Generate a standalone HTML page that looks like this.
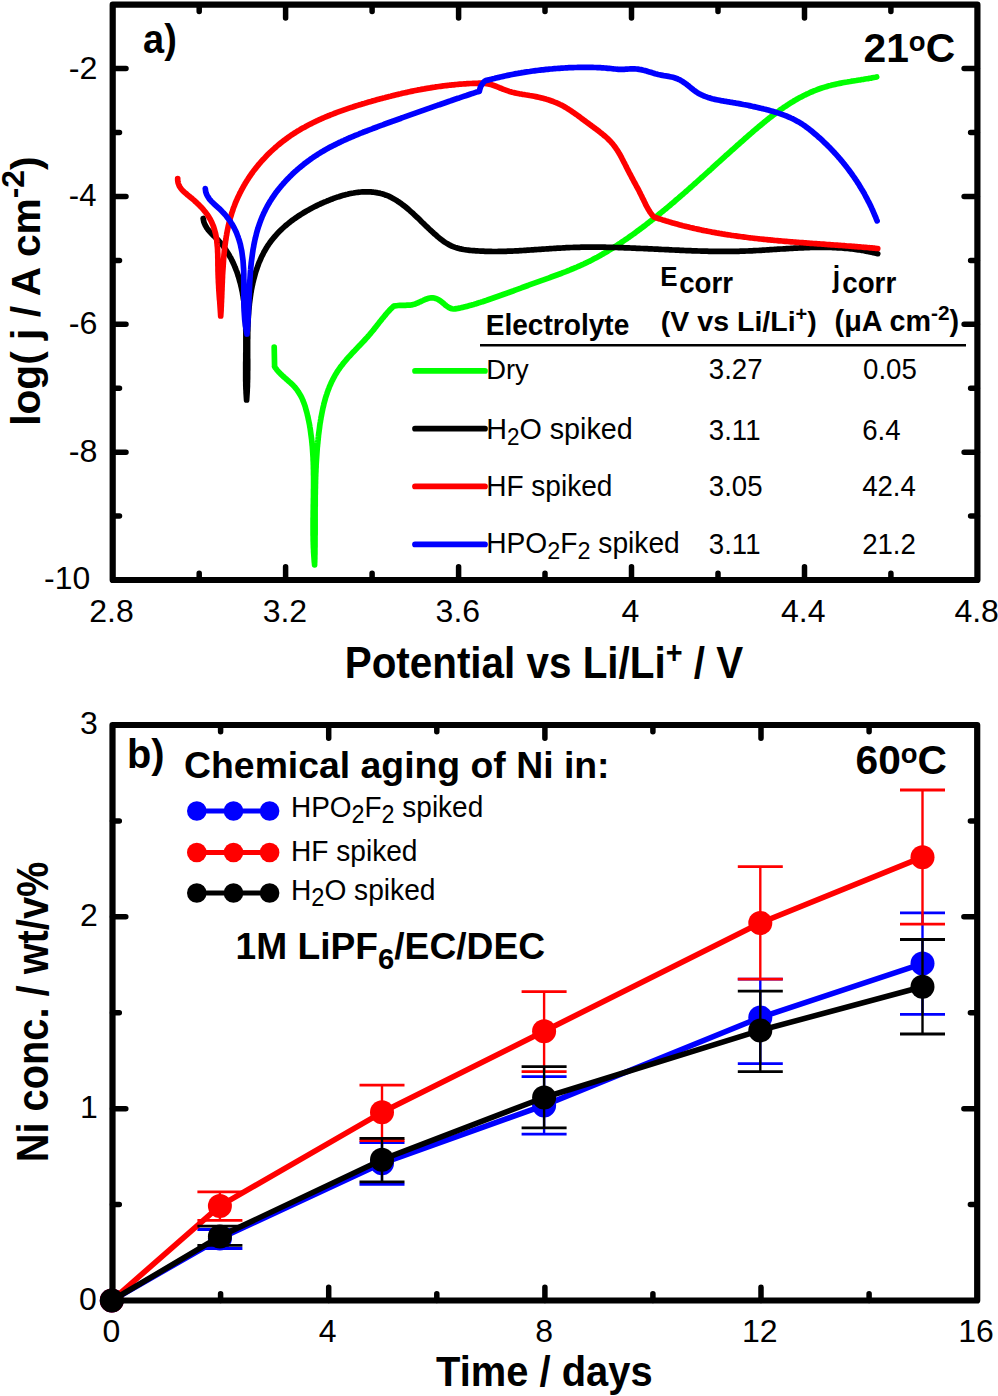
<!DOCTYPE html>
<html><head><meta charset="utf-8"><title>Figure</title>
<style>
html,body{margin:0;padding:0;background:#fff;}
body{width:998px;height:1396px;overflow:hidden;font-family:"Liberation Sans",sans-serif;}
svg{display:block;}
</style></head><body>
<svg width="998" height="1396" viewBox="0 0 998 1396" font-family="Liberation Sans, sans-serif">
<rect x="0" y="0" width="998" height="1396" fill="#fff"/>
<path d="M274.2,347.0 L274.6,366.5 M274.6,366.5 L275.3,367.7 L276.2,368.9 L277.0,370.0 L278.0,371.2 L279.0,372.3 L280.0,373.3 L281.1,374.4 L282.2,375.4 L283.3,376.5 L284.5,377.5 L285.6,378.5 L286.8,379.5 L288.0,380.6 L289.1,381.6 L290.3,382.6 L291.4,383.7 L292.5,384.7 L293.6,385.8 L294.6,386.9 L295.6,388.1 L296.5,389.2 L297.4,390.4 L298.2,391.7 L299.0,392.9 L299.8,394.2 L300.5,395.4 L301.2,396.7 L301.9,398.1 L302.5,399.4 L303.0,400.8 L303.6,402.1 L304.1,403.5 L304.6,404.9 L305.1,406.3 L305.5,407.7 L305.9,409.2 L306.3,410.6 L306.7,412.1 L307.1,413.5 L307.4,415.0 L307.8,416.4 L308.1,417.9 L308.4,419.3 L308.7,420.8 L309.0,422.3 L309.3,423.7 L309.6,425.2 L309.8,426.7 L310.1,428.2 L310.3,429.6 L310.5,431.1 L310.7,432.6 L310.9,434.1 L311.1,435.6 L311.3,437.0 L311.5,438.5 L311.7,440.0 L311.8,441.5 L312.0,443.0 L312.1,444.5 L312.3,446.0 L312.4,447.5 L312.5,449.0 L312.6,450.5 L312.7,452.0 L312.8,453.5 L312.9,455.0 L313.0,456.5 L313.1,458.0 L313.1,459.5 L313.2,461.0 L313.3,462.5 L313.3,464.0 L313.4,465.5 L313.4,467.0 L313.4,468.5 L313.5,470.1 L313.5,471.6 L313.5,473.1 L313.5,474.6 L313.6,476.1 L313.6,477.6 L313.6,479.1 L313.6,480.7 L313.6,482.2 L313.6,483.7 L313.6,485.2 L313.6,486.7 L313.6,488.2 L313.5,489.8 L313.5,491.3 L313.5,492.8 L313.5,494.3 L313.5,495.8 L313.5,497.3 L313.4,498.9 L313.4,500.4 L313.4,501.9 L313.4,503.4 L313.3,504.9 L313.3,506.4 L313.3,507.9 L313.3,509.5 L313.2,511.0 L313.2,512.5 L313.2,514.0 L313.2,515.5 L313.2,517.0 L313.1,518.5 L313.1,520.0 L313.1,521.6 L313.1,523.1 L313.1,524.6 L313.1,526.1 L313.1,527.6 L313.1,529.1 L313.1,530.6 L313.1,532.1 L313.1,533.6 L313.1,535.1 L313.2,536.6 L313.2,538.1 L313.2,539.6 L313.2,541.1 L313.3,542.6 L313.3,544.1 L313.4,545.6 L313.4,547.1 L313.5,548.5 L313.6,550.0 L313.6,551.5 L313.7,553.0 L313.8,554.5 L313.9,556.0 L314.0,557.4 L314.1,558.9 L314.2,560.4 L314.3,561.9 L314.5,563.3 L314.6,564.8 M314.6,564.8 L314.6,563.3 L314.7,561.8 L314.7,560.3 L314.8,558.8 L314.8,557.3 L314.8,555.7 L314.9,554.2 L314.9,552.7 L314.9,551.2 L314.9,549.7 L314.9,548.2 L315.0,546.7 L315.0,545.2 L315.0,543.7 L315.0,542.2 L315.0,540.7 L315.0,539.2 L315.0,537.6 L315.0,536.1 L315.1,534.6 L315.1,533.1 L315.1,531.6 L315.1,530.1 L315.1,528.6 L315.1,527.1 L315.1,525.6 L315.1,524.1 L315.1,522.6 L315.1,521.1 L315.1,519.6 L315.1,518.1 L315.1,516.6 L315.1,515.0 L315.1,513.5 L315.1,512.0 L315.1,510.5 L315.1,509.0 L315.1,507.5 L315.2,506.0 L315.2,504.5 L315.2,503.0 L315.2,501.5 L315.2,500.0 L315.2,498.5 L315.2,497.0 L315.2,495.5 L315.3,494.0 L315.3,492.5 L315.3,491.0 L315.3,489.5 L315.4,488.0 L315.4,486.4 L315.4,484.9 L315.5,483.4 L315.5,481.9 L315.5,480.4 L315.6,478.9 L315.6,477.4 L315.7,475.9 L315.7,474.4 L315.8,472.9 L315.9,471.4 L315.9,469.9 L316.0,468.4 L316.1,466.9 L316.1,465.4 L316.2,463.9 L316.3,462.4 L316.4,460.9 L316.5,459.4 L316.6,457.9 L316.7,456.4 L316.8,454.8 L316.9,453.3 L317.0,451.8 L317.1,450.3 L317.2,448.8 L317.3,447.3 L317.5,445.8 L317.6,444.3 L317.8,442.8 L317.9,441.3 L318.1,439.8 L318.2,438.3 L318.4,436.8 L318.5,435.3 L318.7,433.8 L318.9,432.3 L319.1,430.8 L319.3,429.3 L319.5,427.8 L319.7,426.2 L319.9,424.7 L320.1,423.2 L320.4,421.7 L320.6,420.2 L320.9,418.7 L321.1,417.2 L321.4,415.8 L321.7,414.3 L322.0,412.8 L322.3,411.3 L322.6,409.8 L322.9,408.3 L323.2,406.9 L323.6,405.4 L323.9,403.9 L324.3,402.5 L324.7,401.0 L325.1,399.6 L325.5,398.1 L325.9,396.7 L326.4,395.3 L326.9,393.9 L327.3,392.5 L327.8,391.1 L328.3,389.7 L328.9,388.3 L329.4,386.9 L330.0,385.5 L330.6,384.2 L331.2,382.8 L331.8,381.5 L332.5,380.2 L333.1,378.9 L333.8,377.6 L334.5,376.3 L335.2,375.0 L336.0,373.7 L336.8,372.4 L337.6,371.2 L338.4,370.0 L339.2,368.8 L340.1,367.5 L341.0,366.3 L341.9,365.2 L342.8,364.0 L343.7,362.8 L344.7,361.7 L345.7,360.5 L346.6,359.4 L347.6,358.2 L348.6,357.1 L349.7,356.0 L350.7,354.9 L351.7,353.7 L352.8,352.6 L353.8,351.5 L354.9,350.4 L355.9,349.3 L357.0,348.2 L358.0,347.1 L359.1,346.0 L360.1,344.9 L361.2,343.8 L362.2,342.7 L363.3,341.6 L364.3,340.5 L365.4,339.3 L366.4,338.2 L367.4,337.1 L368.4,335.9 L369.4,334.8 L370.4,333.6 L371.3,332.5 L372.3,331.3 L373.3,330.2 L374.2,329.0 L375.1,327.8 L376.1,326.6 L377.0,325.4 L377.9,324.3 L378.8,323.1 L379.7,321.9 L380.7,320.7 L381.6,319.6 L382.5,318.4 L383.5,317.3 L384.4,316.1 L385.4,315.0 L386.3,313.8 L387.3,312.7 L388.3,311.6 L389.3,310.5 L390.3,309.4 L391.4,308.4 L392.4,307.3 L393.5,306.3 M393.5,306.3 L395.0,305.9 L396.5,305.7 L398.1,305.5 L399.6,305.4 L401.1,305.3 L402.5,305.3 L404.0,305.3 L405.5,305.3 L407.0,305.2 L408.4,305.2 L409.9,305.1 L411.4,304.9 L412.8,304.6 L414.3,304.2 L415.8,303.7 L417.2,303.1 L418.7,302.5 L420.1,301.8 L421.6,301.1 L423.0,300.5 L424.4,299.8 L425.8,299.2 L427.3,298.7 L428.7,298.3 L430.0,298.0 L431.4,297.8 L432.8,297.8 L434.1,298.0 L435.5,298.4 L436.8,298.9 L438.1,299.5 L439.3,300.2 L440.6,301.1 L441.8,302.0 L443.0,303.0 L444.2,304.0 L445.4,305.1 L446.6,306.0 L447.9,306.9 L449.2,307.7 L450.5,308.3 L451.9,308.8 L453.4,309.0 L455.0,308.9 M455.0,308.9 L456.5,308.6 L457.9,308.4 L459.4,308.1 L460.9,307.8 L462.3,307.4 L463.8,307.1 L465.3,306.7 L466.7,306.4 L468.2,306.0 L469.6,305.6 L471.0,305.2 L472.5,304.8 L473.9,304.4 L475.4,303.9 L476.8,303.5 L478.2,303.0 L479.7,302.6 L481.1,302.1 L482.5,301.7 L483.9,301.2 L485.4,300.7 L486.8,300.3 L488.2,299.8 L489.6,299.3 L491.1,298.8 L492.5,298.3 L493.9,297.8 L495.3,297.3 L496.8,296.8 L498.2,296.3 L499.6,295.8 L501.0,295.3 L502.4,294.8 L503.8,294.3 L505.3,293.8 L506.7,293.3 L508.1,292.7 L509.5,292.2 L510.9,291.7 L512.3,291.2 L513.8,290.7 L515.2,290.1 L516.6,289.6 L518.0,289.1 L519.4,288.6 L520.8,288.1 L522.2,287.5 L523.7,287.0 L525.1,286.5 L526.5,286.0 L527.9,285.5 L529.3,284.9 L530.7,284.4 L532.1,283.9 L533.6,283.4 L535.0,282.9 L536.4,282.4 L537.8,281.9 L539.2,281.4 L540.6,280.9 L542.0,280.4 L543.5,279.9 L544.9,279.4 L546.3,278.9 L547.7,278.4 L549.1,277.9 L550.5,277.3 L551.9,276.8 L553.3,276.3 L554.7,275.8 L556.1,275.3 L557.5,274.8 L558.9,274.2 L560.3,273.7 L561.7,273.2 L563.1,272.6 L564.5,272.1 L565.9,271.6 L567.3,271.0 L568.7,270.5 L570.1,269.9 L571.4,269.3 L572.8,268.8 L574.2,268.2 L575.6,267.6 L577.0,267.0 L578.3,266.4 L579.7,265.8 L581.1,265.2 L582.4,264.6 L583.8,264.0 L585.1,263.3 L586.5,262.7 L587.8,262.0 L589.2,261.4 L590.5,260.7 L591.9,260.0 L593.2,259.3 L594.5,258.6 L595.8,257.9 L597.2,257.2 L598.5,256.5 L599.8,255.8 L601.1,255.0 L602.4,254.3 L603.7,253.5 L605.0,252.8 L606.3,252.0 L607.6,251.2 L608.9,250.4 L610.2,249.6 L611.5,248.8 L612.8,248.0 L614.1,247.2 L615.3,246.4 L616.6,245.6 L617.9,244.8 L619.1,243.9 L620.4,243.1 L621.7,242.2 L622.9,241.4 L624.2,240.5 L625.4,239.7 L626.7,238.8 L627.9,238.0 L629.1,237.1 L630.4,236.2 L631.6,235.3 L632.8,234.5 L634.1,233.6 L635.3,232.7 L636.5,231.8 L637.7,230.9 L638.9,230.0 L640.1,229.1 L641.3,228.2 L642.6,227.3 L643.8,226.4 L645.0,225.5 L646.1,224.6 L647.3,223.6 L648.5,222.7 L649.7,221.8 L650.9,220.9 L652.1,219.9 L653.3,219.0 L654.4,218.1 L655.6,217.1 L656.8,216.2 L658.0,215.2 L659.1,214.3 L660.3,213.3 L661.4,212.4 L662.6,211.4 L663.8,210.5 L664.9,209.5 L666.1,208.6 L667.2,207.6 L668.4,206.6 L669.5,205.7 L670.7,204.7 L671.8,203.7 L673.0,202.8 L674.1,201.8 L675.2,200.8 L676.4,199.8 L677.5,198.9 L678.7,197.9 L679.8,196.9 L680.9,195.9 L682.1,194.9 L683.2,194.0 L684.3,193.0 L685.4,192.0 L686.6,191.0 L687.7,190.0 L688.8,189.0 L689.9,188.0 L691.1,187.0 L692.2,186.0 L693.3,185.0 L694.4,184.0 L695.6,183.0 L696.7,182.0 L697.8,181.0 L698.9,180.0 L700.0,179.0 L701.1,178.0 L702.3,177.0 L703.4,176.0 L704.5,175.0 L705.6,174.0 L706.7,173.0 L707.8,172.0 L708.9,171.0 L710.1,170.0 L711.2,169.0 L712.3,167.9 L713.4,166.9 L714.5,165.9 L715.6,164.9 L716.7,163.9 L717.8,162.9 L719.0,161.9 L720.1,160.9 L721.2,159.9 L722.3,158.9 L723.4,157.9 L724.5,156.9 L725.6,155.8 L726.8,154.8 L727.9,153.8 L729.0,152.8 L730.1,151.8 L731.2,150.8 L732.4,149.8 L733.5,148.8 L734.6,147.8 L735.7,146.8 L736.8,145.8 L738.0,144.8 L739.1,143.8 L740.2,142.8 L741.4,141.8 L742.5,140.8 L743.6,139.8 L744.7,138.8 L745.9,137.8 L747.0,136.8 L748.1,135.8 L749.3,134.9 L750.4,133.9 L751.6,132.9 L752.7,131.9 L753.8,130.9 L755.0,129.9 L756.1,129.0 L757.3,128.0 L758.4,127.0 L759.6,126.0 L760.8,125.1 L761.9,124.1 L763.1,123.2 L764.2,122.2 L765.4,121.2 L766.6,120.3 L767.8,119.4 L768.9,118.4 L770.1,117.5 L771.3,116.6 L772.5,115.7 L773.7,114.8 L774.9,113.9 L776.1,113.0 L777.3,112.1 L778.5,111.2 L779.7,110.3 L780.9,109.4 L782.2,108.6 L783.4,107.7 L784.6,106.9 L785.9,106.1 L787.1,105.2 L788.4,104.4 L789.6,103.6 L790.9,102.8 L792.2,102.1 L793.4,101.3 L794.7,100.5 L796.0,99.8 L797.3,99.0 L798.6,98.3 L799.9,97.6 L801.2,96.9 L802.5,96.2 L803.8,95.5 L805.2,94.9 L806.5,94.2 L807.9,93.6 L809.2,93.0 L810.6,92.3 L812.0,91.8 L813.3,91.2 L814.7,90.6 L816.1,90.1 L817.5,89.5 L818.9,89.0 L820.3,88.5 L821.8,88.0 L823.2,87.6 L824.7,87.1 L826.1,86.7 L827.6,86.2 L829.0,85.8 L830.5,85.5 L832.0,85.1 L833.5,84.7 L835.0,84.4 L836.5,84.0 L838.0,83.7 L839.5,83.4 L841.0,83.1 L842.5,82.8 L844.0,82.5 L845.6,82.2 L847.1,82.0 L848.6,81.7 L850.1,81.5 L851.6,81.2 L853.2,81.0 L854.7,80.7 L856.2,80.5 L857.7,80.2 L859.2,80.0 L860.7,79.8 L862.2,79.5 L863.7,79.3 L865.2,79.0 L866.6,78.8 L868.1,78.6 L869.6,78.3 L871.0,78.1 L872.4,77.8 L873.9,77.5 L875.3,77.3 L876.7,77.0" fill="none" stroke="#00ff00" stroke-width="5.7" stroke-linecap="round" stroke-linejoin="round"/>
<path d="M203.2,218.5 L203.5,220.1 L203.8,221.7 L204.3,223.1 L204.9,224.5 L205.6,225.9 L206.3,227.1 L207.1,228.4 L208.0,229.6 L208.9,230.7 L209.9,231.8 L210.9,232.9 L212.0,234.0 L213.0,235.1 L214.1,236.1 L215.2,237.2 L216.3,238.3 L217.3,239.3 L218.4,240.4 L219.4,241.6 L220.4,242.7 L221.4,243.9 L222.3,245.0 L223.3,246.2 L224.2,247.4 L225.0,248.7 L225.9,249.9 L226.7,251.2 L227.5,252.5 L228.3,253.8 L229.1,255.1 L229.8,256.4 L230.6,257.7 L231.3,259.0 L231.9,260.4 L232.6,261.7 L233.2,263.1 L233.9,264.5 L234.5,265.9 L235.0,267.2 L235.6,268.6 L236.1,270.0 L236.7,271.4 L237.2,272.8 L237.7,274.2 L238.1,275.7 L238.6,277.1 L239.0,278.5 L239.4,279.9 L239.8,281.4 L240.2,282.8 L240.6,284.2 L240.9,285.7 L241.3,287.1 L241.6,288.6 L241.9,290.1 L242.2,291.5 L242.5,293.0 L242.7,294.4 L243.0,295.9 L243.2,297.4 L243.4,298.9 L243.7,300.4 L243.9,301.8 L244.0,303.3 L244.2,304.8 L244.4,306.3 L244.6,307.8 L244.7,309.3 L244.8,310.8 L245.0,312.3 L245.1,313.8 L245.2,315.3 L245.3,316.8 L245.4,318.3 L245.5,319.9 L245.5,321.4 L245.6,322.9 L245.7,324.4 L245.7,325.9 L245.8,327.4 L245.8,329.0 L245.8,330.5 L245.9,332.0 L245.9,333.5 L245.9,335.1 L245.9,336.6 L245.9,338.1 L245.9,339.6 L245.9,341.2 L245.9,342.7 L245.9,344.2 L245.9,345.8 L245.9,347.3 L245.9,348.8 L245.9,350.3 L245.9,351.9 L245.8,353.4 L245.8,354.9 L245.8,356.4 L245.8,358.0 L245.8,359.5 L245.8,361.0 L245.7,362.5 L245.7,364.1 L245.7,365.6 L245.7,367.1 L245.7,368.6 L245.7,370.1 L245.7,371.7 L245.7,373.2 L245.7,374.7 L245.7,376.2 L245.7,377.7 L245.7,379.2 L245.7,380.7 L245.8,382.2 L245.8,383.7 L245.8,385.2 L245.9,386.7 L245.9,388.2 L246.0,389.7 L246.1,391.2 L246.1,392.6 L246.2,394.1 L246.3,395.6 L246.4,397.1 L246.5,398.5 L246.6,400.0 M246.6,400.0 L246.7,398.5 L246.8,397.0 L246.9,395.5 L247.0,394.0 L247.1,392.5 L247.2,391.0 L247.2,389.5 L247.3,388.0 L247.4,386.5 L247.4,385.0 L247.4,383.5 L247.5,382.0 L247.5,380.5 L247.6,379.0 L247.6,377.5 L247.6,376.0 L247.6,374.5 L247.6,373.0 L247.6,371.5 L247.7,370.0 L247.7,368.5 L247.7,367.0 L247.7,365.5 L247.7,364.0 L247.7,362.5 L247.7,361.0 L247.7,359.5 L247.6,358.0 L247.6,356.5 L247.6,355.0 L247.6,353.5 L247.6,352.0 L247.6,350.5 L247.6,349.0 L247.6,347.5 L247.6,345.9 L247.6,344.4 L247.6,342.9 L247.6,341.4 L247.6,339.9 L247.7,338.4 L247.7,336.9 L247.7,335.4 L247.7,333.9 L247.7,332.4 L247.8,330.9 L247.8,329.4 L247.8,327.9 L247.9,326.4 L247.9,324.9 L248.0,323.4 L248.1,321.9 L248.1,320.4 L248.2,318.9 L248.3,317.4 L248.4,315.9 L248.5,314.4 L248.6,312.9 L248.7,311.4 L248.8,309.9 L249.0,308.4 L249.1,306.9 L249.3,305.4 L249.4,303.9 L249.6,302.4 L249.8,300.9 L250.0,299.4 L250.2,297.9 L250.4,296.4 L250.6,295.0 L250.8,293.5 L251.1,292.0 L251.3,290.5 L251.6,289.0 L251.9,287.5 L252.2,286.0 L252.5,284.6 L252.8,283.1 L253.2,281.6 L253.5,280.1 L253.9,278.7 L254.3,277.2 L254.7,275.7 L255.1,274.3 L255.5,272.8 L255.9,271.4 L256.4,270.0 L256.9,268.5 L257.4,267.1 L257.9,265.7 L258.4,264.3 L258.9,262.9 L259.5,261.5 L260.1,260.2 L260.7,258.8 L261.3,257.4 L261.9,256.1 L262.6,254.8 L263.3,253.5 L263.9,252.1 L264.7,250.9 L265.4,249.6 L266.1,248.3 L266.9,247.1 L267.7,245.8 L268.5,244.6 L269.4,243.4 L270.2,242.2 L271.1,241.0 L272.0,239.9 L272.9,238.7 L273.8,237.6 L274.8,236.5 L275.8,235.4 L276.7,234.3 L277.7,233.2 L278.8,232.1 L279.8,231.1 L280.9,230.0 L281.9,229.0 L283.0,228.0 L284.1,227.0 L285.2,226.0 L286.4,225.0 L287.5,224.1 L288.7,223.1 L289.8,222.2 L291.0,221.3 L292.2,220.4 L293.4,219.5 L294.7,218.6 L295.9,217.7 L297.2,216.9 L298.4,216.0 L299.7,215.2 L301.0,214.4 L302.3,213.6 L303.6,212.8 L304.9,212.0 L306.2,211.2 L307.6,210.4 L308.9,209.7 L310.3,208.9 L311.6,208.2 L313.0,207.5 L314.4,206.8 L315.8,206.1 L317.2,205.4 L318.6,204.7 L320.0,204.1 L321.4,203.4 L322.8,202.8 L324.2,202.2 L325.7,201.6 L327.1,201.0 L328.6,200.4 L330.0,199.8 L331.5,199.2 L332.9,198.7 L334.4,198.1 L335.8,197.6 L337.3,197.1 L338.8,196.7 L340.2,196.2 L341.7,195.7 L343.2,195.3 L344.7,194.9 L346.1,194.5 L347.6,194.2 L349.1,193.8 L350.5,193.5 L352.0,193.2 L353.5,193.0 L355.0,192.7 L356.4,192.5 L357.9,192.3 L359.3,192.2 L360.8,192.0 L362.3,191.9 L363.7,191.9 L365.1,191.8 L366.6,191.8 L368.0,191.8 L369.5,191.9 L370.9,191.9 L372.3,192.1 L373.7,192.2 L375.1,192.4 L376.5,192.6 L377.9,192.9 L379.3,193.1 L380.7,193.5 L382.0,193.8 L383.4,194.2 L384.7,194.7 L386.1,195.2 L387.4,195.7 L388.7,196.2 L390.0,196.8 L391.3,197.5 L392.6,198.2 L393.9,198.9 L395.1,199.6 L396.4,200.4 L397.6,201.2 L398.9,202.0 L400.1,202.9 L401.3,203.7 L402.6,204.7 L403.8,205.6 L405.0,206.5 L406.2,207.5 L407.4,208.5 L408.6,209.5 L409.7,210.5 L410.9,211.6 L412.1,212.6 L413.3,213.7 L414.4,214.8 L415.6,215.9 L416.7,217.0 L417.9,218.0 L419.0,219.1 L420.2,220.3 L421.3,221.4 L422.4,222.5 L423.6,223.6 L424.7,224.7 L425.8,225.8 L427.0,226.9 L428.1,227.9 L429.2,229.0 L430.4,230.1 L431.5,231.1 L432.6,232.2 L433.7,233.2 L434.9,234.2 L436.0,235.2 L437.1,236.2 L438.2,237.1 L439.4,238.1 L440.5,239.0 L441.6,239.9 L442.8,240.7 L443.9,241.6 L445.1,242.4 L446.3,243.1 L447.5,243.8 L448.7,244.5 L449.9,245.2 L451.2,245.8 L452.5,246.4 L453.8,246.9 L455.2,247.4 L456.5,247.8 L457.9,248.2 L459.3,248.6 L460.8,248.9 L462.2,249.2 L463.7,249.5 L465.2,249.7 L466.7,250.0 L468.2,250.1 L469.7,250.3 L471.2,250.5 L472.8,250.6 L474.3,250.7 L475.8,250.8 L477.3,250.9 L478.9,251.0 L480.4,251.1 L481.9,251.2 L483.5,251.2 L485.0,251.3 L486.5,251.3 L488.0,251.4 L489.5,251.4 L491.1,251.4 L492.6,251.5 L494.1,251.5 L495.6,251.5 L497.1,251.5 L498.6,251.4 L500.2,251.4 L501.7,251.4 L503.2,251.4 L504.7,251.3 L506.2,251.3 L507.7,251.2 L509.2,251.2 L510.7,251.1 L512.2,251.1 L513.7,251.0 L515.2,250.9 L516.7,250.9 L518.2,250.8 L519.7,250.7 L521.3,250.6 L522.8,250.5 L524.3,250.4 L525.8,250.3 L527.3,250.2 L528.8,250.1 L530.3,250.0 L531.8,249.9 L533.3,249.8 L534.8,249.7 L536.2,249.6 L537.7,249.5 L539.2,249.4 L540.7,249.3 L542.2,249.2 L543.7,249.1 L545.2,249.0 L546.7,248.9 L548.2,248.8 L549.7,248.7 L551.2,248.6 L552.7,248.5 L554.2,248.4 L555.7,248.3 L557.2,248.2 L558.7,248.1 L560.2,248.1 L561.7,248.0 L563.2,247.9 L564.7,247.8 L566.2,247.7 L567.7,247.7 L569.2,247.6 L570.7,247.5 L572.2,247.5 L573.7,247.4 L575.1,247.4 L576.6,247.4 L578.1,247.3 L579.6,247.3 L581.1,247.2 L582.6,247.2 L584.1,247.2 L585.6,247.2 L587.1,247.2 L588.6,247.2 L590.1,247.1 L591.6,247.1 L593.1,247.1 L594.6,247.1 L596.1,247.1 L597.6,247.2 L599.1,247.2 L600.6,247.2 L602.1,247.2 L603.6,247.2 L605.1,247.2 L606.6,247.3 L608.1,247.3 L609.6,247.3 L611.1,247.4 L612.6,247.4 L614.1,247.4 L615.6,247.5 L617.1,247.5 L618.6,247.6 L620.1,247.6 L621.6,247.7 L623.1,247.7 L624.6,247.8 L626.1,247.8 L627.6,247.9 L629.1,247.9 L630.6,248.0 L632.1,248.1 L633.6,248.1 L635.1,248.2 L636.6,248.3 L638.1,248.3 L639.6,248.4 L641.2,248.5 L642.7,248.5 L644.2,248.6 L645.7,248.7 L647.2,248.7 L648.7,248.8 L650.2,248.9 L651.7,248.9 L653.2,249.0 L654.7,249.1 L656.2,249.2 L657.7,249.2 L659.2,249.3 L660.7,249.4 L662.2,249.5 L663.7,249.5 L665.2,249.6 L666.7,249.7 L668.2,249.7 L669.7,249.8 L671.2,249.9 L672.7,250.0 L674.2,250.0 L675.7,250.1 L677.2,250.2 L678.7,250.2 L680.2,250.3 L681.7,250.4 L683.2,250.4 L684.7,250.5 L686.2,250.6 L687.7,250.6 L689.2,250.7 L690.7,250.7 L692.2,250.8 L693.7,250.8 L695.2,250.9 L696.7,250.9 L698.2,251.0 L699.7,251.0 L701.2,251.1 L702.7,251.1 L704.2,251.2 L705.7,251.2 L707.2,251.2 L708.8,251.3 L710.3,251.3 L711.8,251.3 L713.3,251.3 L714.8,251.4 L716.3,251.4 L717.8,251.4 L719.3,251.4 L720.8,251.4 L722.3,251.4 L723.8,251.4 L725.3,251.4 L726.8,251.4 L728.3,251.4 L729.8,251.4 L731.3,251.4 L732.8,251.4 L734.3,251.3 L735.8,251.3 L737.3,251.3 L738.8,251.3 L740.3,251.2 L741.7,251.2 L743.2,251.1 L744.7,251.1 L746.2,251.0 L747.7,251.0 L749.2,250.9 L750.7,250.8 L752.2,250.8 L753.7,250.7 L755.2,250.6 L756.7,250.5 L758.2,250.5 L759.7,250.4 L761.2,250.3 L762.7,250.2 L764.2,250.1 L765.7,250.0 L767.2,249.9 L768.7,249.8 L770.2,249.7 L771.7,249.6 L773.2,249.5 L774.7,249.4 L776.2,249.3 L777.7,249.2 L779.2,249.1 L780.7,249.0 L782.2,249.0 L783.6,248.9 L785.1,248.8 L786.6,248.7 L788.1,248.6 L789.6,248.5 L791.1,248.4 L792.6,248.3 L794.1,248.2 L795.6,248.2 L797.1,248.1 L798.6,248.0 L800.1,247.9 L801.6,247.9 L803.1,247.8 L804.6,247.7 L806.1,247.7 L807.5,247.6 L809.0,247.6 L810.5,247.5 L812.0,247.5 L813.5,247.5 L815.0,247.4 L816.5,247.4 L818.0,247.4 L819.5,247.4 L821.0,247.4 L822.5,247.4 L824.0,247.4 L825.5,247.4 L827.0,247.4 L828.4,247.4 L829.9,247.5 L831.4,247.5 L832.9,247.6 L834.4,247.6 L835.9,247.7 L837.4,247.8 L838.9,247.9 L840.4,247.9 L841.9,248.0 L843.4,248.2 L844.9,248.3 L846.4,248.4 L847.8,248.5 L849.3,248.7 L850.8,248.9 L852.3,249.0 L853.8,249.2 L855.3,249.4 L856.8,249.6 L858.3,249.8 L859.8,250.0 L861.3,250.3 L862.8,250.5 L864.3,250.8 L865.8,251.1 L867.3,251.3 L868.7,251.6 L870.2,251.9 L871.7,252.3 L873.2,252.6 L874.7,253.0 L876.2,253.3 L877.7,253.7" fill="none" stroke="#000000" stroke-width="5.7" stroke-linecap="round" stroke-linejoin="round"/>
<path d="M177.7,178.5 L177.7,180.1 L177.9,181.7 L178.2,183.1 L178.7,184.5 L179.2,185.8 L179.9,187.0 L180.7,188.2 L181.6,189.3 L182.5,190.3 L183.5,191.4 L184.6,192.4 L185.7,193.3 L186.9,194.3 L188.0,195.3 L189.2,196.2 L190.4,197.2 L191.6,198.1 L192.7,199.1 L193.9,200.1 L195.0,201.2 L196.2,202.2 L197.3,203.3 L198.4,204.3 L199.5,205.4 L200.5,206.5 L201.6,207.6 L202.6,208.7 L203.6,209.9 L204.5,211.1 L205.5,212.2 L206.4,213.4 L207.3,214.6 L208.1,215.9 L208.9,217.1 L209.7,218.4 L210.4,219.7 L211.1,221.0 L211.7,222.3 L212.3,223.6 L212.9,225.0 L213.4,226.3 L213.9,227.7 L214.3,229.1 L214.7,230.5 L215.1,232.0 L215.5,233.4 L215.8,234.8 L216.1,236.3 L216.3,237.8 L216.6,239.3 L216.8,240.8 L216.9,242.3 L217.1,243.8 L217.2,245.3 L217.4,246.8 L217.5,248.3 L217.6,249.8 L217.6,251.4 L217.7,252.9 L217.8,254.5 L217.8,256.0 L217.8,257.5 L217.9,259.1 L217.9,260.6 L217.9,262.2 L217.9,263.7 L217.9,265.2 L218.0,266.7 L218.0,268.3 L218.0,269.8 L218.0,271.3 L218.1,272.8 L218.1,274.3 L218.2,275.8 L218.2,277.3 L218.3,278.8 L218.4,280.3 L218.4,281.7 L218.5,283.2 L218.6,284.7 L218.7,286.2 L218.7,287.6 L218.8,289.1 L218.9,290.6 L219.0,292.0 L219.1,293.5 L219.2,295.0 L219.3,296.5 L219.4,297.9 L219.5,299.4 L219.7,300.9 L219.8,302.4 L219.9,303.9 L220.0,305.4 L220.1,306.9 L220.2,308.4 L220.3,309.9 L220.4,311.4 L220.5,312.9 L220.6,314.5 L220.7,316.0 M220.7,316.0 L220.8,314.6 L220.9,313.1 L221.0,311.7 L221.1,310.2 L221.1,308.8 L221.2,307.3 L221.3,305.9 L221.3,304.4 L221.4,302.9 L221.5,301.5 L221.5,300.0 L221.6,298.5 L221.7,297.0 L221.7,295.5 L221.8,294.0 L221.8,292.5 L221.9,291.0 L222.0,289.5 L222.0,288.0 L222.1,286.5 L222.1,285.0 L222.2,283.5 L222.3,282.0 L222.3,280.5 L222.4,278.9 L222.5,277.4 L222.5,275.9 L222.6,274.4 L222.7,272.9 L222.8,271.3 L222.9,269.8 L223.0,268.3 L223.1,266.8 L223.2,265.2 L223.3,263.7 L223.4,262.2 L223.5,260.7 L223.6,259.1 L223.7,257.6 L223.9,256.1 L224.0,254.6 L224.2,253.1 L224.3,251.5 L224.5,250.0 L224.6,248.5 L224.8,247.0 L225.0,245.5 L225.2,244.0 L225.4,242.5 L225.6,240.9 L225.9,239.4 L226.1,237.9 L226.3,236.4 L226.6,235.0 L226.8,233.5 L227.1,232.0 L227.4,230.5 L227.7,229.0 L228.0,227.5 L228.3,226.1 L228.7,224.6 L229.0,223.1 L229.4,221.7 L229.8,220.2 L230.1,218.8 L230.5,217.3 L231.0,215.9 L231.4,214.5 L231.8,213.0 L232.3,211.6 L232.8,210.2 L233.2,208.8 L233.7,207.4 L234.3,206.0 L234.8,204.6 L235.3,203.2 L235.9,201.8 L236.5,200.5 L237.1,199.1 L237.7,197.7 L238.3,196.4 L239.0,195.0 L239.6,193.7 L240.3,192.4 L241.0,191.0 L241.6,189.7 L242.4,188.4 L243.1,187.1 L243.8,185.8 L244.6,184.5 L245.3,183.3 L246.1,182.0 L246.9,180.7 L247.7,179.5 L248.5,178.2 L249.3,177.0 L250.2,175.8 L251.0,174.5 L251.9,173.3 L252.7,172.1 L253.6,170.9 L254.5,169.7 L255.4,168.6 L256.4,167.4 L257.3,166.2 L258.2,165.1 L259.2,163.9 L260.2,162.8 L261.1,161.7 L262.1,160.6 L263.1,159.5 L264.2,158.4 L265.2,157.3 L266.2,156.2 L267.3,155.1 L268.3,154.1 L269.4,153.0 L270.4,152.0 L271.5,151.0 L272.6,150.0 L273.7,149.0 L274.8,148.0 L276.0,147.0 L277.1,146.0 L278.2,145.0 L279.4,144.1 L280.5,143.1 L281.7,142.2 L282.9,141.3 L284.1,140.4 L285.3,139.5 L286.5,138.6 L287.7,137.7 L288.9,136.9 L290.1,136.0 L291.3,135.2 L292.6,134.3 L293.8,133.5 L295.1,132.7 L296.4,131.9 L297.6,131.1 L298.9,130.4 L300.2,129.6 L301.5,128.8 L302.8,128.1 L304.1,127.4 L305.4,126.7 L306.7,125.9 L308.0,125.2 L309.4,124.5 L310.7,123.9 L312.0,123.2 L313.4,122.5 L314.7,121.9 L316.1,121.2 L317.5,120.6 L318.8,119.9 L320.2,119.3 L321.6,118.7 L322.9,118.1 L324.3,117.5 L325.7,116.9 L327.1,116.3 L328.5,115.7 L329.9,115.2 L331.3,114.6 L332.7,114.1 L334.1,113.5 L335.6,113.0 L337.0,112.4 L338.4,111.9 L339.8,111.4 L341.3,110.9 L342.7,110.4 L344.1,109.9 L345.6,109.4 L347.0,108.9 L348.4,108.4 L349.9,107.9 L351.3,107.4 L352.8,107.0 L354.2,106.5 L355.7,106.0 L357.1,105.6 L358.6,105.1 L360.0,104.7 L361.5,104.3 L362.9,103.8 L364.4,103.4 L365.8,102.9 L367.3,102.5 L368.7,102.1 L370.2,101.7 L371.7,101.3 L373.1,100.8 L374.6,100.4 L376.0,100.0 L377.5,99.6 L378.9,99.2 L380.4,98.8 L381.9,98.4 L383.3,98.0 L384.8,97.7 L386.2,97.3 L387.7,96.9 L389.1,96.5 L390.6,96.2 L392.1,95.8 L393.5,95.4 L395.0,95.1 L396.4,94.7 L397.9,94.4 L399.3,94.0 L400.8,93.7 L402.3,93.3 L403.7,93.0 L405.2,92.7 L406.6,92.4 L408.1,92.0 L409.6,91.7 L411.0,91.4 L412.5,91.1 L414.0,90.8 L415.4,90.5 L416.9,90.2 L418.3,89.9 L419.8,89.7 L421.3,89.4 L422.7,89.1 L424.2,88.9 L425.7,88.6 L427.1,88.3 L428.6,88.1 L430.1,87.9 L431.6,87.6 L433.0,87.4 L434.5,87.2 L436.0,86.9 L437.4,86.7 L438.9,86.5 L440.4,86.3 L441.9,86.1 L443.3,85.9 L444.8,85.7 L446.3,85.6 L447.8,85.4 L449.2,85.2 L450.7,85.1 L452.2,84.9 L453.7,84.8 L455.2,84.6 L456.6,84.5 L458.1,84.3 L459.6,84.2 L461.1,84.1 L462.6,84.0 L464.1,83.9 L465.6,83.8 L467.0,83.7 L468.5,83.6 L470.0,83.5 L471.5,83.5 L473.0,83.4 L474.5,83.4 L476.0,83.3 L477.5,83.3 L479.0,83.2 L480.5,83.2 L482.0,83.2 M482.0,83.2 L483.5,83.2 L485.0,83.4 L486.5,83.6 L488.0,83.8 L489.4,84.2 L490.9,84.6 L492.3,85.0 L493.8,85.5 L495.2,86.0 L496.6,86.5 L498.0,87.1 L499.4,87.7 L500.8,88.2 L502.2,88.8 L503.6,89.4 L505.0,89.9 L506.4,90.4 L507.9,90.9 L509.3,91.4 L510.7,91.8 L512.1,92.2 L513.6,92.5 L515.0,92.9 L516.5,93.2 L517.9,93.5 L519.4,93.8 L520.9,94.0 L522.3,94.3 L523.8,94.5 L525.3,94.8 L526.7,95.0 L528.2,95.2 L529.7,95.5 L531.2,95.7 L532.7,96.0 L534.2,96.3 L535.7,96.6 L537.1,96.9 L538.6,97.2 L540.1,97.6 L541.6,97.9 L543.1,98.3 L544.5,98.7 L546.0,99.1 L547.4,99.6 L548.9,100.0 L550.3,100.5 L551.7,101.0 L553.2,101.5 L554.6,102.1 L556.0,102.6 L557.3,103.2 L558.7,103.8 L560.1,104.5 L561.4,105.1 L562.7,105.8 L564.0,106.5 L565.3,107.3 L566.6,108.0 L567.8,108.8 L569.1,109.6 L570.3,110.4 L571.6,111.2 L572.8,112.1 L574.0,112.9 L575.3,113.8 L576.5,114.7 L577.7,115.5 L578.9,116.4 L580.1,117.3 L581.3,118.2 L582.5,119.1 L583.7,120.0 L584.9,120.9 L586.1,121.8 L587.3,122.7 L588.6,123.6 L589.8,124.5 L591.0,125.4 L592.2,126.3 L593.5,127.2 L594.7,128.1 L595.9,129.0 L597.1,129.9 L598.3,130.8 L599.5,131.8 L600.7,132.7 L601.9,133.6 L603.1,134.6 L604.2,135.6 L605.4,136.5 L606.5,137.5 L607.6,138.5 L608.6,139.6 L609.7,140.6 L610.7,141.7 L611.7,142.8 L612.7,143.9 L613.6,145.1 L614.5,146.3 L615.4,147.5 L616.2,148.7 L617.1,149.9 L617.9,151.2 L618.7,152.5 L619.4,153.8 L620.2,155.1 L620.9,156.4 L621.6,157.7 L622.3,159.1 L623.0,160.4 L623.7,161.8 L624.4,163.1 L625.1,164.5 L625.8,165.8 L626.4,167.2 L627.1,168.5 L627.8,169.9 L628.5,171.2 L629.2,172.6 L629.9,173.9 L630.6,175.2 L631.3,176.5 L632.0,177.9 L632.7,179.2 L633.4,180.5 L634.1,181.8 L634.8,183.1 L635.6,184.4 L636.3,185.8 L637.0,187.1 L637.7,188.4 L638.4,189.7 L639.1,191.0 L639.7,192.4 L640.4,193.7 L641.1,195.1 L641.8,196.4 L642.4,197.8 L643.1,199.1 L643.8,200.5 L644.4,201.8 L645.1,203.2 L645.7,204.6 L646.4,205.9 L647.1,207.2 L647.9,208.6 L648.6,209.8 L649.4,211.1 L650.2,212.4 L651.1,213.6 L652.0,214.8 L653.0,215.9 L654.0,217.0 M654.0,217.0 L655.4,217.5 L656.9,218.0 L658.3,218.5 L659.7,218.9 L661.2,219.4 L662.6,219.9 L664.0,220.3 L665.5,220.8 L666.9,221.2 L668.3,221.6 L669.8,222.1 L671.2,222.5 L672.7,222.9 L674.1,223.3 L675.6,223.7 L677.0,224.1 L678.4,224.5 L679.9,224.9 L681.3,225.3 L682.8,225.7 L684.2,226.0 L685.7,226.4 L687.2,226.7 L688.6,227.1 L690.1,227.5 L691.5,227.8 L693.0,228.1 L694.4,228.5 L695.9,228.8 L697.4,229.1 L698.8,229.4 L700.3,229.7 L701.8,230.1 L703.2,230.4 L704.7,230.7 L706.2,230.9 L707.6,231.2 L709.1,231.5 L710.6,231.8 L712.0,232.1 L713.5,232.3 L715.0,232.6 L716.4,232.9 L717.9,233.1 L719.4,233.4 L720.9,233.6 L722.3,233.9 L723.8,234.1 L725.3,234.4 L726.8,234.6 L728.3,234.8 L729.7,235.0 L731.2,235.3 L732.7,235.5 L734.2,235.7 L735.7,235.9 L737.1,236.1 L738.6,236.3 L740.1,236.5 L741.6,236.7 L743.1,236.9 L744.6,237.1 L746.0,237.3 L747.5,237.5 L749.0,237.7 L750.5,237.9 L752.0,238.0 L753.5,238.2 L755.0,238.4 L756.5,238.5 L758.0,238.7 L759.4,238.9 L760.9,239.0 L762.4,239.2 L763.9,239.3 L765.4,239.5 L766.9,239.6 L768.4,239.8 L769.9,239.9 L771.4,240.1 L772.9,240.2 L774.4,240.4 L775.9,240.5 L777.4,240.6 L778.9,240.8 L780.4,240.9 L781.9,241.0 L783.4,241.2 L784.9,241.3 L786.4,241.4 L787.9,241.5 L789.4,241.7 L790.8,241.8 L792.3,241.9 L793.8,242.0 L795.3,242.1 L796.8,242.3 L798.3,242.4 L799.8,242.5 L801.3,242.6 L802.8,242.7 L804.3,242.8 L805.8,242.9 L807.3,243.1 L808.8,243.2 L810.3,243.3 L811.8,243.4 L813.3,243.5 L814.8,243.6 L816.3,243.7 L817.8,243.8 L819.3,243.9 L820.8,244.0 L822.3,244.1 L823.8,244.2 L825.3,244.3 L826.8,244.5 L828.3,244.6 L829.8,244.7 L831.3,244.8 L832.8,244.9 L834.3,245.0 L835.8,245.1 L837.3,245.2 L838.8,245.3 L840.3,245.4 L841.8,245.5 L843.3,245.6 L844.8,245.7 L846.3,245.9 L847.8,246.0 L849.3,246.1 L850.8,246.2 L852.3,246.3 L853.8,246.4 L855.3,246.6 L856.8,246.7 L858.3,246.8 L859.8,246.9 L861.3,247.0 L862.8,247.2 L864.3,247.3 L865.8,247.4 L867.3,247.5 L868.8,247.7 L870.2,247.8 L871.7,247.9 L873.2,248.1 L874.7,248.2 L876.2,248.4 L877.7,248.5" fill="none" stroke="#ff0000" stroke-width="5.7" stroke-linecap="round" stroke-linejoin="round"/>
<path d="M205.3,188.5 L205.5,190.1 L205.7,191.6 L206.1,193.0 L206.6,194.4 L207.3,195.7 L208.0,196.9 L208.8,198.1 L209.6,199.3 L210.6,200.4 L211.5,201.5 L212.6,202.5 L213.7,203.6 L214.8,204.6 L215.9,205.6 L217.0,206.6 L218.1,207.6 L219.3,208.7 L220.4,209.7 L221.5,210.8 L222.5,211.9 L223.6,213.0 L224.6,214.1 L225.6,215.3 L226.6,216.5 L227.5,217.7 L228.4,218.9 L229.3,220.1 L230.2,221.3 L231.0,222.6 L231.8,223.8 L232.6,225.1 L233.3,226.4 L234.0,227.7 L234.7,229.0 L235.4,230.4 L236.0,231.7 L236.6,233.1 L237.1,234.4 L237.6,235.8 L238.2,237.2 L238.6,238.6 L239.1,240.0 L239.5,241.4 L239.9,242.8 L240.3,244.2 L240.6,245.6 L240.9,247.1 L241.2,248.5 L241.5,249.9 L241.8,251.4 L242.0,252.9 L242.2,254.3 L242.4,255.8 L242.6,257.3 L242.8,258.8 L243.0,260.3 L243.1,261.8 L243.2,263.3 L243.3,264.8 L243.4,266.3 L243.5,267.8 L243.6,269.3 L243.7,270.8 L243.7,272.3 L243.8,273.9 L243.8,275.4 L243.8,276.9 L243.8,278.4 L243.9,280.0 L243.9,281.5 L243.9,283.0 L243.9,284.6 L243.9,286.1 L243.9,287.6 L243.9,289.2 L243.9,290.7 L243.9,292.3 L243.9,293.8 L243.9,295.3 L243.9,296.9 L243.9,298.4 L243.9,299.9 L243.9,301.4 L243.9,303.0 L244.0,304.5 L244.0,306.0 L244.0,307.5 L244.1,309.0 L244.1,310.5 L244.2,312.1 L244.3,313.6 L244.4,315.1 L244.5,316.5 L244.6,318.0 L244.7,319.5 L244.9,321.0 L245.1,322.5 L245.2,323.9 L245.4,325.4 L245.6,326.8 L245.9,328.3 L246.1,329.7 L246.4,331.2 L246.7,332.6 L247.0,334.0 M247.0,334.0 L247.1,332.5 L247.3,331.1 L247.4,329.6 L247.5,328.2 L247.6,326.7 L247.7,325.2 L247.8,323.7 L247.9,322.3 L248.0,320.8 L248.1,319.3 L248.2,317.8 L248.2,316.3 L248.3,314.8 L248.4,313.3 L248.4,311.8 L248.5,310.3 L248.6,308.8 L248.6,307.3 L248.7,305.8 L248.8,304.3 L248.8,302.7 L248.9,301.2 L249.0,299.7 L249.0,298.2 L249.1,296.7 L249.1,295.1 L249.2,293.6 L249.3,292.1 L249.3,290.6 L249.4,289.1 L249.5,287.5 L249.6,286.0 L249.6,284.5 L249.7,283.0 L249.8,281.4 L249.9,279.9 L250.0,278.4 L250.1,276.9 L250.2,275.4 L250.3,273.8 L250.4,272.3 L250.5,270.8 L250.7,269.3 L250.8,267.8 L250.9,266.3 L251.1,264.7 L251.2,263.2 L251.4,261.7 L251.6,260.2 L251.8,258.7 L252.0,257.2 L252.2,255.7 L252.4,254.2 L252.6,252.7 L252.8,251.3 L253.0,249.8 L253.3,248.3 L253.6,246.8 L253.8,245.3 L254.1,243.9 L254.4,242.4 L254.7,241.0 L255.0,239.5 L255.4,238.0 L255.7,236.6 L256.1,235.2 L256.4,233.7 L256.8,232.3 L257.2,230.9 L257.6,229.4 L258.1,228.0 L258.5,226.6 L259.0,225.2 L259.5,223.8 L260.0,222.4 L260.5,221.0 L261.0,219.6 L261.6,218.3 L262.1,216.9 L262.7,215.5 L263.3,214.2 L263.9,212.8 L264.6,211.5 L265.2,210.2 L265.9,208.8 L266.6,207.5 L267.3,206.2 L268.0,204.9 L268.8,203.6 L269.5,202.3 L270.3,201.0 L271.1,199.8 L271.9,198.5 L272.8,197.3 L273.6,196.0 L274.5,194.8 L275.3,193.5 L276.2,192.3 L277.1,191.1 L278.1,189.9 L279.0,188.7 L280.0,187.6 L280.9,186.4 L281.9,185.2 L282.9,184.1 L283.9,182.9 L284.9,181.8 L285.9,180.7 L287.0,179.6 L288.0,178.5 L289.1,177.4 L290.1,176.3 L291.2,175.3 L292.3,174.2 L293.4,173.2 L294.5,172.1 L295.6,171.1 L296.8,170.1 L297.9,169.1 L299.1,168.1 L300.2,167.2 L301.4,166.2 L302.6,165.3 L303.7,164.3 L304.9,163.4 L306.1,162.5 L307.3,161.6 L308.6,160.7 L309.8,159.8 L311.0,158.9 L312.3,158.0 L313.5,157.2 L314.7,156.4 L316.0,155.5 L317.3,154.7 L318.5,153.9 L319.8,153.1 L321.1,152.3 L322.4,151.6 L323.7,150.8 L325.0,150.0 L326.3,149.3 L327.6,148.6 L328.9,147.8 L330.2,147.1 L331.6,146.4 L332.9,145.7 L334.2,145.1 L335.6,144.4 L336.9,143.7 L338.2,143.1 L339.6,142.4 L340.9,141.8 L342.3,141.1 L343.7,140.5 L345.0,139.9 L346.4,139.3 L347.8,138.6 L349.1,138.0 L350.5,137.5 L351.9,136.9 L353.3,136.3 L354.7,135.7 L356.1,135.1 L357.5,134.6 L358.9,134.0 L360.2,133.4 L361.6,132.9 L363.0,132.3 L364.4,131.8 L365.8,131.2 L367.3,130.7 L368.7,130.1 L370.1,129.6 L371.5,129.1 L372.9,128.5 L374.3,128.0 L375.7,127.5 L377.1,127.0 L378.5,126.4 L379.9,125.9 L381.3,125.4 L382.8,124.9 L384.2,124.3 L385.6,123.8 L387.0,123.3 L388.4,122.8 L389.8,122.3 L391.2,121.8 L392.6,121.2 L394.1,120.7 L395.5,120.2 L396.9,119.7 L398.3,119.2 L399.7,118.7 L401.1,118.2 L402.5,117.6 L404.0,117.1 L405.4,116.6 L406.8,116.1 L408.2,115.6 L409.6,115.1 L411.0,114.6 L412.4,114.1 L413.9,113.6 L415.3,113.1 L416.7,112.6 L418.1,112.1 L419.5,111.6 L420.9,111.1 L422.4,110.6 L423.8,110.1 L425.2,109.6 L426.6,109.1 L428.0,108.6 L429.5,108.1 L430.9,107.6 L432.3,107.1 L433.7,106.6 L435.1,106.1 L436.6,105.6 L438.0,105.1 L439.4,104.7 L440.8,104.2 L442.2,103.7 L443.7,103.2 L445.1,102.7 L446.5,102.2 L447.9,101.7 L449.3,101.2 L450.8,100.8 L452.2,100.3 L453.6,99.8 L455.0,99.3 L456.5,98.8 L457.9,98.3 L459.3,97.9 L460.7,97.4 L462.2,96.9 L463.6,96.4 L465.0,95.9 L466.4,95.5 L467.9,95.0 L469.3,94.5 L470.7,94.0 L472.2,93.6 L473.6,93.1 L475.0,92.6 L476.4,92.1 L477.9,91.7 L479.3,91.2 M479.3,91.2 C479.6,90.4 480.0,87.9 480.9,86.2 C481.8,84.5 483.0,82.3 484.5,81.2 C486.0,80.1 489.1,79.9 490.0,79.6 M490.0,79.6 L491.5,79.2 L492.9,78.8 L494.4,78.5 L495.8,78.1 L497.3,77.7 L498.7,77.4 L500.2,77.0 L501.7,76.7 L503.1,76.4 L504.6,76.0 L506.1,75.7 L507.5,75.4 L509.0,75.1 L510.5,74.8 L512.0,74.5 L513.4,74.2 L514.9,73.9 L516.4,73.6 L517.9,73.4 L519.4,73.1 L520.9,72.9 L522.3,72.6 L523.8,72.4 L525.3,72.1 L526.8,71.9 L528.3,71.7 L529.8,71.5 L531.3,71.2 L532.8,71.0 L534.3,70.8 L535.8,70.6 L537.3,70.5 L538.7,70.3 L540.2,70.1 L541.7,69.9 L543.2,69.8 L544.7,69.6 L546.2,69.4 L547.7,69.3 L549.2,69.1 L550.7,69.0 L552.2,68.9 L553.7,68.7 L555.2,68.6 L556.7,68.5 L558.2,68.4 L559.7,68.3 L561.2,68.2 L562.7,68.1 L564.3,68.0 L565.8,67.9 L567.3,67.8 L568.8,67.7 L570.3,67.7 L571.8,67.6 L573.3,67.6 L574.8,67.5 L576.3,67.5 L577.8,67.4 L579.3,67.4 L580.8,67.4 L582.3,67.4 L583.8,67.3 L585.3,67.3 L586.8,67.3 L588.3,67.4 L589.8,67.4 L591.3,67.4 L592.8,67.4 L594.3,67.5 L595.8,67.5 L597.3,67.6 L598.8,67.7 L600.3,67.7 L601.8,67.8 L603.3,67.9 L604.8,68.0 L606.3,68.1 L607.8,68.3 L609.3,68.4 L610.8,68.5 L612.3,68.7 L613.8,68.9 L615.3,69.0 L616.8,69.2 L618.3,69.3 L619.8,69.4 L621.3,69.4 L622.8,69.4 L624.3,69.3 L625.8,69.2 L627.3,69.1 L628.8,69.0 L630.3,68.9 L631.8,68.8 L633.3,68.8 L634.8,68.9 L636.2,69.0 L637.7,69.1 L639.2,69.4 L640.7,69.6 L642.1,69.9 L643.6,70.3 L645.0,70.6 L646.5,71.0 L647.9,71.5 L649.4,71.9 L650.8,72.3 L652.3,72.8 L653.7,73.2 L655.2,73.7 L656.6,74.1 L658.1,74.5 L659.6,74.8 L661.1,75.1 L662.6,75.4 L664.1,75.7 L665.6,75.9 L667.1,76.1 L668.6,76.4 L670.0,76.7 L671.5,77.0 L673.0,77.3 L674.4,77.7 L675.8,78.2 L677.2,78.7 L678.5,79.3 L679.9,79.9 L681.2,80.7 L682.4,81.4 L683.7,82.3 L684.9,83.1 L686.2,84.0 L687.4,85.0 L688.6,85.9 L689.7,86.9 L690.9,87.9 L692.1,88.8 L693.3,89.8 L694.5,90.7 L695.8,91.6 L697.0,92.4 L698.3,93.2 L699.6,93.9 L700.9,94.6 L702.2,95.2 L703.6,95.8 L705.0,96.4 L706.4,96.9 L707.8,97.4 L709.2,97.8 L710.6,98.3 L712.1,98.7 L713.5,99.0 L715.0,99.4 L716.5,99.7 L718.0,100.0 L719.5,100.3 L721.0,100.6 L722.5,100.8 L724.0,101.1 L725.5,101.3 L727.0,101.6 L728.5,101.8 L730.0,102.1 L731.5,102.3 L733.0,102.6 L734.5,102.8 L735.9,103.1 L737.4,103.3 L738.9,103.6 L740.4,103.9 L741.9,104.2 L743.3,104.5 L744.8,104.7 L746.3,105.0 L747.8,105.3 L749.2,105.6 L750.7,105.9 L752.1,106.3 L753.6,106.6 L755.1,106.9 L756.5,107.2 L758.0,107.6 L759.5,107.9 L760.9,108.3 L762.4,108.6 L763.9,109.0 L765.3,109.3 L766.8,109.7 L768.2,110.1 L769.7,110.5 L771.1,110.9 L772.6,111.3 L774.0,111.7 L775.5,112.2 L776.9,112.6 L778.4,113.1 L779.8,113.6 L781.2,114.1 L782.6,114.6 L784.0,115.1 L785.4,115.6 L786.8,116.2 L788.2,116.8 L789.6,117.4 L790.9,118.0 L792.3,118.6 L793.6,119.3 L795.0,120.0 L796.3,120.7 L797.6,121.4 L798.9,122.1 L800.2,122.9 L801.5,123.7 L802.7,124.5 L804.0,125.4 L805.2,126.2 L806.4,127.1 L807.6,128.0 L808.8,128.9 L810.0,129.9 L811.2,130.8 L812.4,131.8 L813.5,132.7 L814.7,133.7 L815.9,134.7 L817.0,135.7 L818.1,136.7 L819.3,137.7 L820.4,138.7 L821.5,139.7 L822.6,140.7 L823.7,141.8 L824.8,142.8 L825.9,143.9 L827.0,144.9 L828.0,146.0 L829.1,147.1 L830.1,148.1 L831.2,149.2 L832.2,150.3 L833.3,151.4 L834.3,152.5 L835.3,153.6 L836.3,154.7 L837.3,155.8 L838.3,157.0 L839.3,158.1 L840.3,159.2 L841.2,160.4 L842.2,161.5 L843.2,162.7 L844.1,163.9 L845.0,165.0 L846.0,166.2 L846.9,167.4 L847.8,168.6 L848.7,169.8 L849.6,171.0 L850.5,172.2 L851.4,173.4 L852.2,174.6 L853.1,175.9 L854.0,177.1 L854.8,178.3 L855.6,179.6 L856.5,180.8 L857.3,182.1 L858.1,183.3 L858.9,184.6 L859.7,185.9 L860.5,187.2 L861.2,188.4 L862.0,189.7 L862.8,191.0 L863.5,192.3 L864.3,193.6 L865.0,195.0 L865.7,196.3 L866.4,197.6 L867.1,198.9 L867.8,200.3 L868.5,201.6 L869.2,202.9 L869.9,204.3 L870.5,205.7 L871.2,207.0 L871.8,208.4 L872.4,209.7 L873.0,211.1 L873.6,212.5 L874.2,213.9 L874.8,215.3 L875.4,216.7 L876.0,218.1 L876.5,219.5 L877.1,220.9" fill="none" stroke="#0000ff" stroke-width="5.7" stroke-linecap="round" stroke-linejoin="round"/>
<rect x="112.7" y="4.7" width="864.7" height="575.3" fill="none" stroke="#000" stroke-width="6.2" stroke-linejoin="round"/>
<path d="M199.2,580.0 v-6.8 M199.2,4.7 v6.8 M285.6,580.0 v-13.3 M285.6,4.7 v13.3 M372.1,580.0 v-6.8 M372.1,4.7 v6.8 M458.6,580.0 v-13.3 M458.6,4.7 v13.3 M545.0,580.0 v-6.8 M545.0,4.7 v6.8 M631.5,580.0 v-13.3 M631.5,4.7 v13.3 M718.0,580.0 v-6.8 M718.0,4.7 v6.8 M804.5,580.0 v-13.3 M804.5,4.7 v13.3 M890.9,580.0 v-6.8 M890.9,4.7 v6.8 M112.7,516.1 h6.8 M977.4,516.1 h-6.8 M112.7,452.2 h13.3 M977.4,452.2 h-13.3 M112.7,388.2 h6.8 M977.4,388.2 h-6.8 M112.7,324.3 h13.3 M977.4,324.3 h-13.3 M112.7,260.4 h6.8 M977.4,260.4 h-6.8 M112.7,196.5 h13.3 M977.4,196.5 h-13.3 M112.7,132.5 h6.8 M977.4,132.5 h-6.8 M112.7,68.6 h13.3 M977.4,68.6 h-13.3" stroke="#000" stroke-width="5.5" fill="none" stroke-linecap="round"/>
<path d="M480,345.3 H966" stroke="#000" stroke-width="2.4"/>
<path d="M415,370.9 H485" stroke="#00ff00" stroke-width="5.7" stroke-linecap="round"/>
<path d="M415,428.7 H485" stroke="#000000" stroke-width="5.7" stroke-linecap="round"/>
<path d="M415,486.4 H485" stroke="#ff0000" stroke-width="5.7" stroke-linecap="round"/>
<path d="M415,544.4 H485" stroke="#0000ff" stroke-width="5.7" stroke-linecap="round"/>
<path d="M219.9,1229.5 V1248.5" stroke="#0000ff" stroke-width="2.4" fill="none"/>
<path d="M197.4,1229.5 H242.4 M197.4,1248.5 H242.4" stroke="#0000ff" stroke-width="2.8" fill="none"/>
<path d="M382.0,1142.6 V1184.4" stroke="#0000ff" stroke-width="2.4" fill="none"/>
<path d="M359.5,1142.6 H404.5 M359.5,1184.4 H404.5" stroke="#0000ff" stroke-width="2.8" fill="none"/>
<path d="M544.1,1076.6 V1134.2" stroke="#0000ff" stroke-width="2.4" fill="none"/>
<path d="M521.6,1076.6 H566.6 M521.6,1134.2 H566.6" stroke="#0000ff" stroke-width="2.8" fill="none"/>
<path d="M760.3,979.2 V1063.6" stroke="#0000ff" stroke-width="2.4" fill="none"/>
<path d="M737.8,979.2 H782.8 M737.8,1063.6 H782.8" stroke="#0000ff" stroke-width="2.8" fill="none"/>
<path d="M922.5,912.8 V1014.3" stroke="#0000ff" stroke-width="2.4" fill="none"/>
<path d="M900.0,912.8 H945.0 M900.0,1014.3 H945.0" stroke="#0000ff" stroke-width="2.8" fill="none"/>
<path d="M111.8,1300.5 L219.9,1238.5 L382.0,1163.3 L544.1,1105.4 L760.3,1017.5 L922.5,963.6" fill="none" stroke="#0000ff" stroke-width="5.6" stroke-linejoin="round"/>
<circle cx="111.8" cy="1300.5" r="12" fill="#0000ff"/>
<circle cx="219.9" cy="1238.5" r="12" fill="#0000ff"/>
<circle cx="382.0" cy="1163.3" r="12" fill="#0000ff"/>
<circle cx="544.1" cy="1105.4" r="12" fill="#0000ff"/>
<circle cx="760.3" cy="1017.5" r="12" fill="#0000ff"/>
<circle cx="922.5" cy="963.6" r="12" fill="#0000ff"/>
<path d="M219.9,1191.9 V1220.3" stroke="#ff0000" stroke-width="2.4" fill="none"/>
<path d="M197.4,1191.9 H242.4 M197.4,1220.3 H242.4" stroke="#ff0000" stroke-width="2.8" fill="none"/>
<path d="M382.0,1085.1 V1140.5" stroke="#ff0000" stroke-width="2.4" fill="none"/>
<path d="M359.5,1085.1 H404.5 M359.5,1140.5 H404.5" stroke="#ff0000" stroke-width="2.8" fill="none"/>
<path d="M544.1,991.6 V1071.6" stroke="#ff0000" stroke-width="2.4" fill="none"/>
<path d="M521.6,991.6 H566.6 M521.6,1071.6 H566.6" stroke="#ff0000" stroke-width="2.8" fill="none"/>
<path d="M760.3,866.6 V979.2" stroke="#ff0000" stroke-width="2.4" fill="none"/>
<path d="M737.8,866.6 H782.8 M737.8,979.2 H782.8" stroke="#ff0000" stroke-width="2.8" fill="none"/>
<path d="M922.5,790.0 V924.1" stroke="#ff0000" stroke-width="2.4" fill="none"/>
<path d="M900.0,790.0 H945.0 M900.0,924.1 H945.0" stroke="#ff0000" stroke-width="2.8" fill="none"/>
<path d="M111.8,1300.5 L219.9,1205.9 L382.0,1112.3 L544.1,1031.2 L760.3,923.0 L922.5,857.2" fill="none" stroke="#ff0000" stroke-width="5.6" stroke-linejoin="round"/>
<circle cx="111.8" cy="1300.5" r="12" fill="#ff0000"/>
<circle cx="219.9" cy="1205.9" r="12" fill="#ff0000"/>
<circle cx="382.0" cy="1112.3" r="12" fill="#ff0000"/>
<circle cx="544.1" cy="1031.2" r="12" fill="#ff0000"/>
<circle cx="760.3" cy="923.0" r="12" fill="#ff0000"/>
<circle cx="922.5" cy="857.2" r="12" fill="#ff0000"/>
<path d="M219.9,1226.1 V1245.4" stroke="#000000" stroke-width="2.4" fill="none"/>
<path d="M197.4,1226.1 H242.4 M197.4,1245.4 H242.4" stroke="#000000" stroke-width="2.8" fill="none"/>
<path d="M382.0,1138.4 V1181.8" stroke="#000000" stroke-width="2.4" fill="none"/>
<path d="M359.5,1138.4 H404.5 M359.5,1181.8 H404.5" stroke="#000000" stroke-width="2.8" fill="none"/>
<path d="M544.1,1066.7 V1127.8" stroke="#000000" stroke-width="2.4" fill="none"/>
<path d="M521.6,1066.7 H566.6 M521.6,1127.8 H566.6" stroke="#000000" stroke-width="2.8" fill="none"/>
<path d="M760.3,991.1 V1071.6" stroke="#000000" stroke-width="2.4" fill="none"/>
<path d="M737.8,991.1 H782.8 M737.8,1071.6 H782.8" stroke="#000000" stroke-width="2.8" fill="none"/>
<path d="M922.5,939.5 V1034.0" stroke="#000000" stroke-width="2.4" fill="none"/>
<path d="M900.0,939.5 H945.0 M900.0,1034.0 H945.0" stroke="#000000" stroke-width="2.8" fill="none"/>
<path d="M111.8,1300.5 L219.9,1236.4 L382.0,1159.7 L544.1,1097.5 L760.3,1030.4 L922.5,986.7" fill="none" stroke="#000000" stroke-width="5.6" stroke-linejoin="round"/>
<circle cx="111.8" cy="1300.5" r="12" fill="#000000"/>
<circle cx="219.9" cy="1236.4" r="12" fill="#000000"/>
<circle cx="382.0" cy="1159.7" r="12" fill="#000000"/>
<circle cx="544.1" cy="1097.5" r="12" fill="#000000"/>
<circle cx="760.3" cy="1030.4" r="12" fill="#000000"/>
<circle cx="922.5" cy="986.7" r="12" fill="#000000"/>
<rect x="112.5" y="725.0" width="864.7" height="575.5" fill="none" stroke="#000" stroke-width="6.2" stroke-linejoin="round"/>
<path d="M220.6,1300.5 v-6.8 M220.6,725.0 v6.8 M328.7,1300.5 v-13.3 M328.7,725.0 v13.3 M436.8,1300.5 v-6.8 M436.8,725.0 v6.8 M544.9,1300.5 v-13.3 M544.9,725.0 v13.3 M652.9,1300.5 v-6.8 M652.9,725.0 v6.8 M761.0,1300.5 v-13.3 M761.0,725.0 v13.3 M869.1,1300.5 v-6.8 M869.1,725.0 v6.8 M112.5,1204.6 h6.8 M977.2,1204.6 h-6.8 M112.5,1108.7 h13.3 M977.2,1108.7 h-13.3 M112.5,1012.8 h6.8 M977.2,1012.8 h-6.8 M112.5,916.8 h13.3 M977.2,916.8 h-13.3 M112.5,820.9 h6.8 M977.2,820.9 h-6.8" stroke="#000" stroke-width="5.5" fill="none" stroke-linecap="round"/>
<path d="M196.8,811.0 H269.6" stroke="#0000ff" stroke-width="5.2"/>
<circle cx="196.8" cy="811.0" r="9.8" fill="#0000ff"/>
<circle cx="233.5" cy="811.0" r="9.8" fill="#0000ff"/>
<circle cx="269.6" cy="811.0" r="9.8" fill="#0000ff"/>
<path d="M196.8,852.5 H269.6" stroke="#ff0000" stroke-width="5.2"/>
<circle cx="196.8" cy="852.5" r="9.8" fill="#ff0000"/>
<circle cx="233.5" cy="852.5" r="9.8" fill="#ff0000"/>
<circle cx="269.6" cy="852.5" r="9.8" fill="#ff0000"/>
<path d="M196.8,893.0 H269.6" stroke="#000000" stroke-width="5.2"/>
<circle cx="196.8" cy="893.0" r="9.8" fill="#000000"/>
<circle cx="233.5" cy="893.0" r="9.8" fill="#000000"/>
<circle cx="269.6" cy="893.0" r="9.8" fill="#000000"/>
<text transform="translate(143.06,52.90) scale(0.9364,1)" font-size="40.5" font-weight="bold">a)</text>
<text transform="translate(863.52,62.30) scale(0.9824,1)" font-size="41.5" font-weight="bold">21<tspan font-size="28" dy="-11">o</tspan><tspan font-size="41.5" dy="11">C</tspan></text>
<text transform="translate(68.79,78.60) scale(1.0077,1)" font-size="32">-2</text>
<text transform="translate(68.83,206.10) scale(0.9704,1)" font-size="32">-4</text>
<text transform="translate(68.79,334.00) scale(1.0077,1)" font-size="32">-6</text>
<text transform="translate(68.79,462.20) scale(1.0077,1)" font-size="32">-8</text>
<text transform="translate(44.00,589.40) scale(0.9977,1)" font-size="32">-10</text>
<text transform="translate(89.20,622.40) scale(1.0000,1)" font-size="32">2.8</text>
<text transform="translate(262.64,622.40) scale(1.0000,1)" font-size="32">3.2</text>
<text transform="translate(435.58,622.40) scale(1.0000,1)" font-size="32">3.6</text>
<text transform="translate(621.52,622.40) scale(1.0000,1)" font-size="32">4</text>
<text transform="translate(780.96,622.40) scale(1.0000,1)" font-size="32">4.4</text>
<text transform="translate(954.40,622.40) scale(1.0000,1)" font-size="32">4.8</text>
<text transform="translate(344.71,678.20) scale(0.9289,1)" font-size="43.5" font-weight="bold">Potential vs Li/Li<tspan font-size="31" dy="-15.2">+</tspan><tspan font-size="43.5" dy="15.2"> / V</tspan></text>
<text transform="translate(39.70,425.78) rotate(-90) scale(0.9925,1)" font-size="41" font-weight="bold">log( j / A cm<tspan font-size="32" dy="-15.5">-2</tspan><tspan font-size="41" dy="15.5">)</tspan></text>
<text transform="translate(485.71,335.10) scale(0.9430,1)" font-size="29.8" font-weight="bold">Electrolyte</text>
<text transform="translate(660.34,286.00) scale(0.9312,1)" font-size="27.9" font-weight="bold">E</text>
<text transform="translate(679.17,293.20) scale(0.9286,1)" font-size="29.8" font-weight="bold">corr</text>
<text transform="translate(660.80,330.70) scale(1.0020,1)" font-size="28.5" font-weight="bold">(V vs Li/Li<tspan font-size="20" dy="-9.7">+</tspan><tspan font-size="28.5" dy="9.7">)</tspan></text>
<text transform="translate(832.80,286.50) scale(0.9300,1)" font-size="28.6" font-weight="bold">j</text>
<text transform="translate(842.27,293.30) scale(0.9304,1)" font-size="29.8" font-weight="bold">corr</text>
<text transform="translate(834.61,330.50) scale(0.9919,1)" font-size="29" font-weight="bold">(μA cm<tspan font-size="21" dy="-11">-2</tspan><tspan font-size="29" dy="11">)</tspan></text>
<text transform="translate(486.18,379.10) scale(0.9595,1)" font-size="28.5">Dry</text>
<text transform="translate(486.15,438.80) scale(0.9774,1)" font-size="29.4">H<tspan font-size="23" dy="6.1">2</tspan><tspan font-size="29.4" dy="-6.1">O spiked</tspan></text>
<text transform="translate(486.15,495.90) scale(0.9746,1)" font-size="28.8">HF spiked</text>
<text transform="translate(486.15,553.40) scale(0.9754,1)" font-size="28.9">HPO<tspan font-size="24" dy="5.6">2</tspan><tspan font-size="28.9" dy="-5.6">F</tspan><tspan font-size="24" dy="5.6">2</tspan><tspan font-size="28.9" dy="-5.6"> spiked</tspan></text>
<text transform="translate(708.83,378.80) scale(0.9660,1)" font-size="28.6">3.27</text>
<text transform="translate(708.83,440.20) scale(0.9660,1)" font-size="28.6">3.11</text>
<text transform="translate(708.83,496.00) scale(0.9660,1)" font-size="28.6">3.05</text>
<text transform="translate(708.83,554.40) scale(0.9660,1)" font-size="28.6">3.11</text>
<text transform="translate(863.03,378.80) scale(0.9660,1)" font-size="28.6">0.05</text>
<text transform="translate(862.13,440.20) scale(0.9660,1)" font-size="28.6">6.4</text>
<text transform="translate(862.13,496.00) scale(0.9660,1)" font-size="28.6">42.4</text>
<text transform="translate(862.13,554.40) scale(0.9660,1)" font-size="28.6">21.2</text>
<text transform="translate(127.02,768.30) scale(0.9939,1)" font-size="40" font-weight="bold">b)</text>
<text transform="translate(184.07,778.10) scale(1.0152,1)" font-size="36.8" font-weight="bold">Chemical aging of Ni in:</text>
<text transform="translate(855.54,773.80) scale(0.9800,1)" font-size="41.5" font-weight="bold">60<tspan font-size="28" dy="-11">o</tspan><tspan font-size="41.5" dy="11">C</tspan></text>
<text transform="translate(290.93,816.60) scale(0.9327,1)" font-size="30">HPO<tspan font-size="25" dy="6.2">2</tspan><tspan font-size="30" dy="-6.2">F</tspan><tspan font-size="25" dy="6.2">2</tspan><tspan font-size="30" dy="-6.2"> spiked</tspan></text>
<text transform="translate(290.91,861.10) scale(0.9438,1)" font-size="29.8">HF spiked</text>
<text transform="translate(290.91,899.70) scale(0.9450,1)" font-size="29.8">H<tspan font-size="25" dy="6.2">2</tspan><tspan font-size="29.8" dy="-6.2">O spiked</tspan></text>
<text transform="translate(235.53,958.60) scale(0.9836,1)" font-size="37.8" font-weight="bold">1M LiPF<tspan font-size="29.7" dy="9.9">6</tspan><tspan font-size="37.8" dy="-9.9">/EC/DEC</tspan></text>
<text transform="translate(79.00,1309.90) scale(1.0000,1)" font-size="32">0</text>
<text transform="translate(80.00,1118.07) scale(1.0000,1)" font-size="32">1</text>
<text transform="translate(80.00,926.23) scale(1.0000,1)" font-size="32">2</text>
<text transform="translate(80.00,734.40) scale(1.0000,1)" font-size="32">3</text>
<text transform="translate(102.50,1342.20) scale(1.0000,1)" font-size="32">0</text>
<text transform="translate(318.68,1342.20) scale(1.0000,1)" font-size="32">4</text>
<text transform="translate(535.35,1342.20) scale(1.0000,1)" font-size="32">8</text>
<text transform="translate(742.03,1342.20) scale(1.0000,1)" font-size="32">12</text>
<text transform="translate(958.20,1342.20) scale(1.0000,1)" font-size="32">16</text>
<text transform="translate(436.08,1386.40) scale(0.9216,1)" font-size="43.3" font-weight="bold">Time / days</text>
<text transform="translate(48.10,1162.21) rotate(-90) scale(0.9043,1)" font-size="44" font-weight="bold">Ni conc. / wt/v%</text>
</svg>
</body></html>
